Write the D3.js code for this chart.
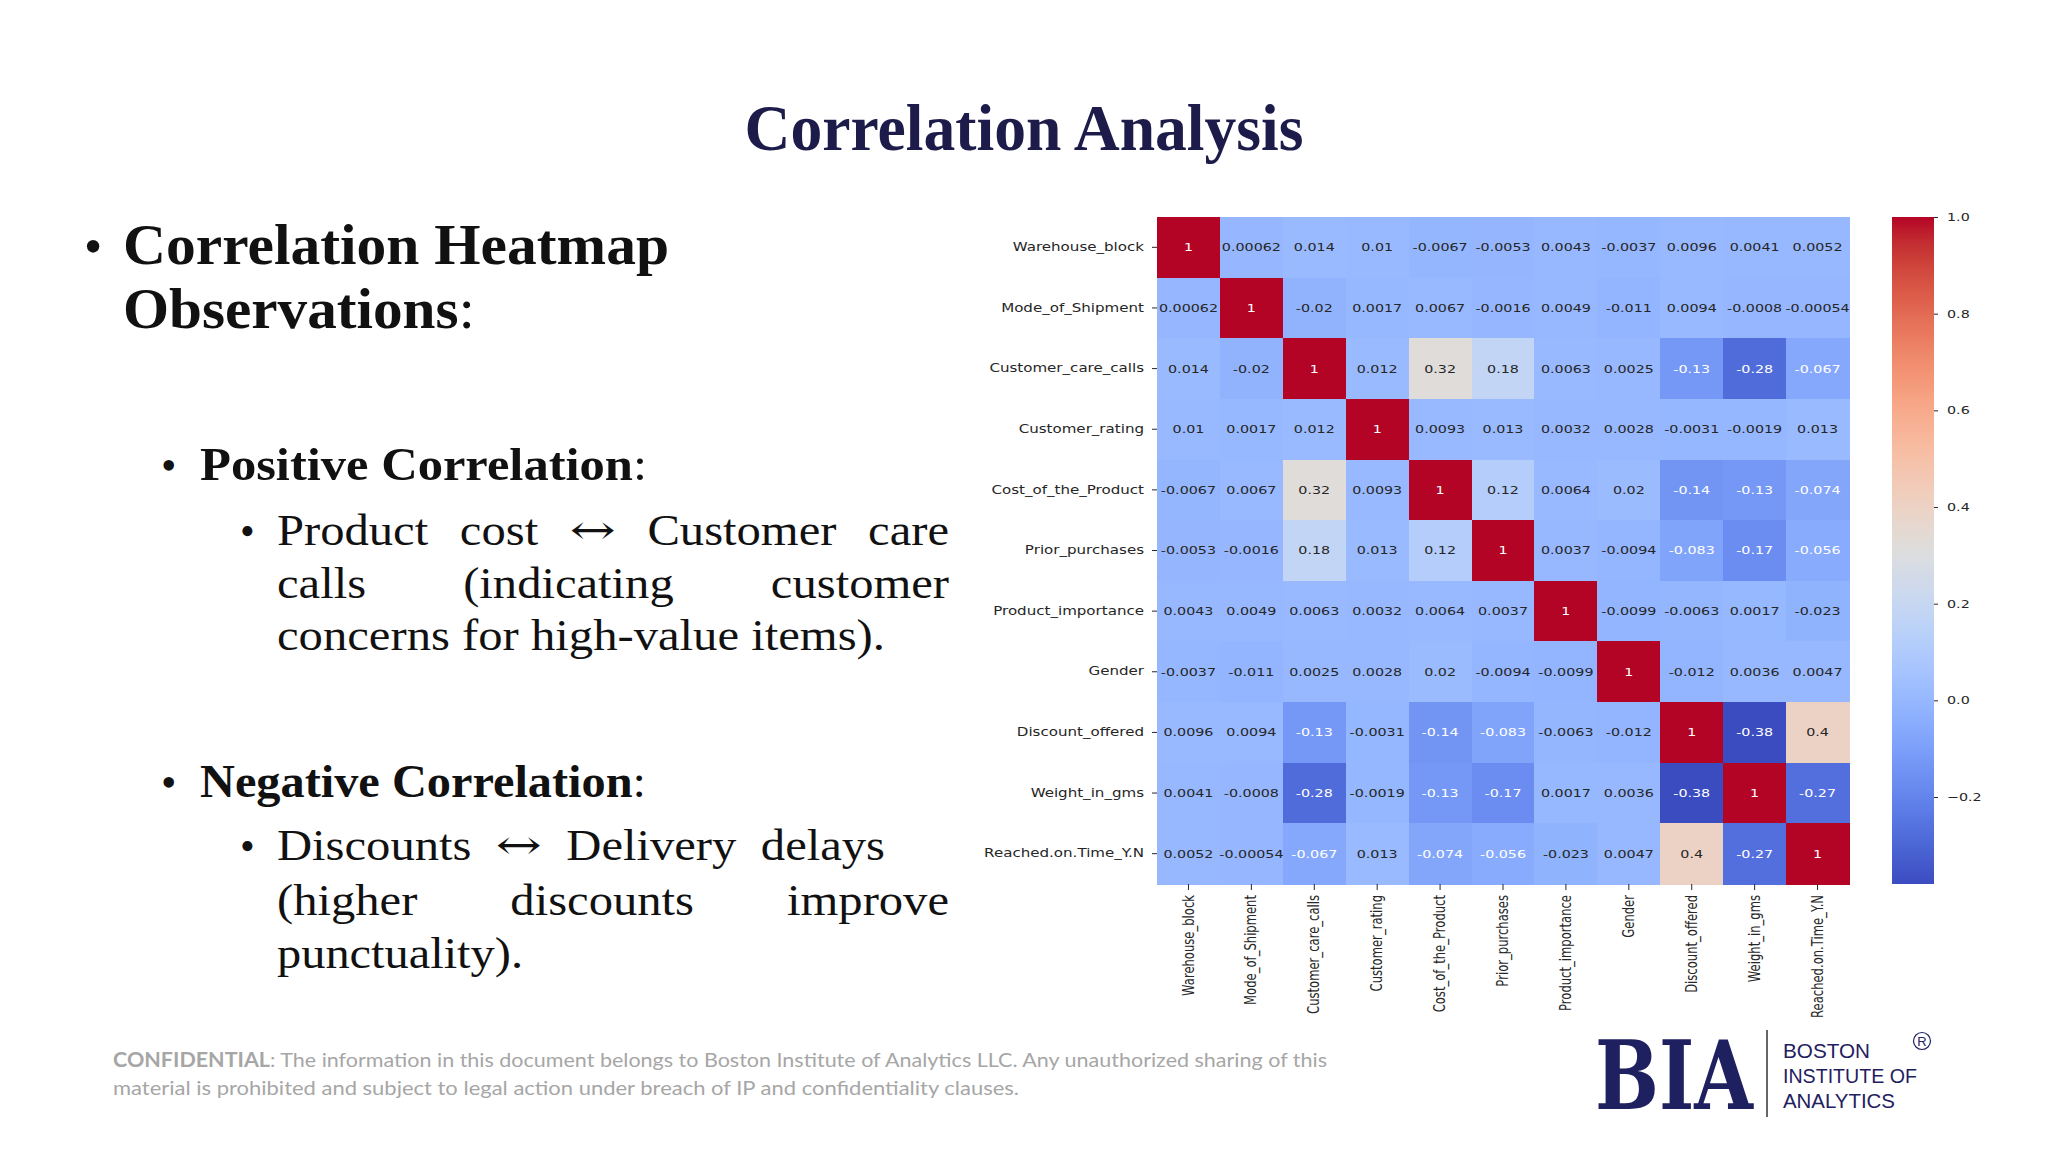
<!DOCTYPE html>
<html>
<head>
<meta charset="utf-8">
<script src="https://cdn.jsdelivr.net/npm/d3@7"></script>
<style>
  body { margin: 0; background: #fff; }
</style>
</head>
<body>
<div id="chart"></div>
<script>
// feature names, same order on both axes
const features = [
  "Warehouse_block", "Mode_of_Shipment", "Customer_care_calls", "Customer_rating",
  "Cost_of_the_Product", "Prior_purchases", "Product_importance", "Gender",
  "Discount_offered", "Weight_in_gms", "Reached.on.Time_Y.N"
];

// correlation matrix
const corrRows = [
  [1, 0.00062, 0.014, 0.01, -0.0067, -0.0053, 0.0043, -0.0037, 0.0096, 0.0041, 0.0052],
  [0.00062, 1, -0.02, 0.0017, 0.0067, -0.0016, 0.0049, -0.011, 0.0094, -0.0008, -0.00054],
  [0.014, -0.02, 1, 0.012, 0.32, 0.18, 0.0063, 0.0025, -0.13, -0.28, -0.067],
  [0.01, 0.0017, 0.012, 1, 0.0093, 0.013, 0.0032, 0.0028, -0.0031, -0.0019, 0.013],
  [-0.0067, 0.0067, 0.32, 0.0093, 1, 0.12, 0.0064, 0.02, -0.14, -0.13, -0.074],
  [-0.0053, -0.0016, 0.18, 0.013, 0.12, 1, 0.0037, -0.0094, -0.083, -0.17, -0.056],
  [0.0043, 0.0049, 0.0063, 0.0032, 0.0064, 0.0037, 1, -0.0099, -0.0063, 0.0017, -0.023],
  [-0.0037, -0.011, 0.0025, 0.0028, 0.02, -0.0094, -0.0099, 1, -0.012, 0.0036, 0.0047],
  [0.0096, 0.0094, -0.13, -0.0031, -0.14, -0.083, -0.0063, -0.012, 1, -0.38, 0.4],
  [0.0041, -0.0008, -0.28, -0.0019, -0.13, -0.17, 0.0017, 0.0036, -0.38, 1, -0.27],
  [0.0052, -0.00054, -0.067, 0.013, -0.074, -0.056, -0.023, 0.0047, 0.4, -0.27, 1]
];

const cbarTicks = [1.0, 0.8, 0.6, 0.4, 0.2, 0.0, -0.2];

// matplotlib "coolwarm" control colours (Moreland), evenly spaced 0..1
const coolwarmStops = [
  [59,76,192],[68,90,204],[77,104,215],[87,117,225],[98,130,234],[108,142,241],
  [119,154,247],[130,165,251],[141,176,254],[152,185,255],[163,194,255],[174,201,253],
  [184,208,249],[194,213,244],[204,217,238],[213,219,230],[221,221,221],[229,216,209],
  [236,211,197],[241,204,185],[245,196,173],[247,187,160],[247,177,148],[247,166,135],
  [244,154,123],[241,141,111],[236,127,99],[229,112,88],[222,96,77],[213,80,66],
  [203,62,56],[192,40,47],[180,4,38]
];

const width = 2048;
const height = 1152;

const svg = d3.select("#chart")
  .append("svg")
  .attr("width", width)
  .attr("height", height);

svg.append("rect").attr("width", width).attr("height", height).attr("fill", "#fff");

// ---------- title ----------
svg.append("text")
  .attr("x", 1024).attr("y", 150)
  .attr("text-anchor", "middle")
  .attr("font-family", "Liberation Serif")
  .attr("font-weight", "bold")
  .attr("font-size", 65)
  .attr("fill", "#1c1b4a")
  .attr("textLength", 559)
  .attr("lengthAdjust", "spacingAndGlyphs")
  .text("Correlation Analysis");

// ---------- left text block ----------
const left = svg.append("g")
  .attr("font-family", "Liberation Serif")
  .attr("fill", "#111");

function bullet(x, y, size) {
  left.append("text").attr("x", x).attr("y", y).attr("font-size", size).text("•");
}

function boldLine(x, y, size, bold, rest, w) {
  const t = left.append("text").attr("x", x).attr("y", y).attr("font-size", size)
    .attr("textLength", w).attr("lengthAdjust", "spacingAndGlyphs");
  t.append("tspan").attr("font-weight", "bold").text(bold);
  if (rest) t.append("tspan").text(rest);
}

function plainLine(x, y, size, str, w) {
  left.append("text").attr("x", x).attr("y", y).attr("font-size", size)
    .attr("textLength", w).attr("lengthAdjust", "spacingAndGlyphs")
    .text(str);
}

// spread the words of one line between x0 and x1
// the double arrow is drawn wider, as in the slide
function justifyLine(words, x0, x1, y, size, sx) {
  const nodes = words.map(w => left.append("text").attr("y", y).attr("font-size", size).text(w));
  const widths = nodes.map((n, i) => words[i] === "↔" ? 46 : n.node().getComputedTextLength() * sx);
  const gap = (x1 - x0 - d3.sum(widths)) / (words.length - 1);
  let cx = x0;
  nodes.forEach((n, i) => {
    n.attr("x", cx).attr("textLength", widths[i]).attr("lengthAdjust", "spacingAndGlyphs");
    if (words[i] === "↔") n.attr("font-family", "DejaVu Serif").attr("font-size", size * 0.9).attr("dy", -1);
    cx += widths[i] + gap;
  });
}

bullet(84, 264, 52);
boldLine(123, 264, 56, "Correlation Heatmap", "", 546);
boldLine(123, 328, 56, "Observations", ":", 352);

bullet(161, 480, 44);
boldLine(200, 480, 47, "Positive Correlation", ":", 447);
bullet(240, 545, 42);
justifyLine(["Product", "cost", "↔", "Customer", "care"], 277, 949, 545, 45, 1.08);
justifyLine(["calls", "(indicating", "customer"], 277, 949, 598, 45, 1.08);
plainLine(277, 650, 45, "concerns for high-value items).", 608);

bullet(161, 797, 44);
boldLine(200, 797, 47, "Negative Correlation", ":", 446);
bullet(240, 860, 42);
justifyLine(["Discounts", "↔", "Delivery", "delays"], 277, 885, 860, 45, 1.08);
justifyLine(["(higher", "discounts", "improve"], 277, 949, 915, 45, 1.08);
plainLine(277, 968, 45, "punctuality).", 246);

// ---------- heatmap ----------
const heat = { x0: 1157, x1: 1849, y0: 217, y1: 884 };
const sx = 1.3; // the figure is stretched horizontally in the slide

const allVals = corrRows.flat();
const vmin = d3.min(allVals);
const vmax = 1;

const coolwarm = d3.scaleLinear()
  .domain(d3.range(coolwarmStops.length).map(i => i / (coolwarmStops.length - 1)))
  .range(coolwarmStops.map(c => d3.rgb(c[0], c[1], c[2])))
  .interpolate(d3.interpolateRgb)
  .clamp(true);
const color = v => coolwarm((v - vmin) / (vmax - vmin));

function luminance(c) {
  const rgb = d3.rgb(c);
  const lin = [rgb.r, rgb.g, rgb.b].map(v => {
    v /= 255;
    return v <= 0.03928 ? v / 12.92 : Math.pow((v + 0.055) / 1.055, 2.4);
  });
  return 0.2126 * lin[0] + 0.7152 * lin[1] + 0.0722 * lin[2];
}

const x = d3.scaleBand().domain(features).range([heat.x0, heat.x1]);
const y = d3.scaleBand().domain(features).range([heat.y0, heat.y1]);

const cells = [];
corrRows.forEach((row, i) => row.forEach((v, j) => {
  cells.push({ row: features[i], col: features[j], value: v });
}));

const fmt = d3.formatLocale({ decimal: ".", thousands: ",", grouping: [3], currency: ["", ""], minus: "-" })
  .format(".2~g");

const hm = svg.append("g");

hm.selectAll("rect")
  .data(cells)
  .join("rect")
  .attr("x", d => x(d.col))
  .attr("y", d => y(d.row))
  .attr("width", x.bandwidth() + 0.6)
  .attr("height", y.bandwidth() + 0.6)
  .attr("fill", d => color(d.value))
  .attr("shape-rendering", "crispEdges");

hm.selectAll("text.annot")
  .data(cells)
  .join("text")
  .attr("class", "annot")
  .attr("transform", d => `translate(${x(d.col) + x.bandwidth() / 2},${y(d.row) + y.bandwidth() / 2}) scale(${sx},1)`)
  .attr("text-anchor", "middle")
  .attr("dy", "0.36em")
  .attr("font-family", "DejaVu Sans")
  .attr("font-size", 11)
  .attr("fill", d => luminance(color(d.value)) > 0.43 ? "#262626" : "#fff")
  .text(d => fmt(d.value));

// row labels
const yAxis = svg.append("g")
  .attr("transform", `translate(${heat.x0},0)`)
  .call(d3.axisLeft(y).tickSize(5).tickPadding(5));
yAxis.select(".domain").remove();
yAxis.selectAll("line").attr("stroke", "#262626");
yAxis.selectAll("text")
  .attr("transform", `scale(${sx},1)`)
  .attr("font-family", "DejaVu Sans")
  .attr("font-size", 11.6)
  .attr("fill", "#262626");

// column labels, rotated
const xAxis = svg.append("g")
  .attr("transform", `translate(0,${heat.y1})`)
  .call(d3.axisBottom(x).tickSize(6));
xAxis.select(".domain").remove();
xAxis.selectAll("line").attr("stroke", "#262626");
xAxis.selectAll("text")
  .attr("transform", `scale(${sx},1) rotate(-90)`)
  .attr("x", -11)
  .attr("y", 0)
  .attr("dy", "0.34em")
  .attr("text-anchor", "end")
  .attr("font-family", "DejaVu Sans")
  .attr("font-size", 11.6)
  .attr("fill", "#262626");

// ---------- colour bar ----------
const cb = { x: 1892, w: 42 };
const cbScale = d3.scaleLinear().domain([vmin, vmax]).range([heat.y1, heat.y0]);

const grad = svg.append("defs").append("linearGradient")
  .attr("id", "cbar")
  .attr("x1", 0).attr("y1", 1).attr("x2", 0).attr("y2", 0);
grad.selectAll("stop")
  .data(d3.range(0, 1.0001, 0.02))
  .join("stop")
  .attr("offset", t => t)
  .attr("stop-color", t => color(vmin + t * (vmax - vmin)));

svg.append("rect")
  .attr("x", cb.x).attr("y", heat.y0)
  .attr("width", cb.w).attr("height", heat.y1 - heat.y0)
  .attr("fill", "url(#cbar)");

const cAxis = svg.append("g")
  .attr("transform", `translate(${cb.x + cb.w},0)`)
  .call(d3.axisRight(cbScale).tickValues(cbarTicks).tickFormat(d3.format(".1f")).tickSize(4).tickPadding(6));
cAxis.select(".domain").remove();
cAxis.selectAll("line").attr("stroke", "#262626");
cAxis.selectAll("text")
  .attr("transform", `scale(${sx},1)`)
  .attr("font-family", "DejaVu Sans")
  .attr("font-size", 11)
  .attr("fill", "#262626");

// ---------- footer ----------
const foot = svg.append("g")
  .attr("font-family", "Lato")
  .attr("font-size", 20)
  .attr("fill", "#a6a6a6");
const f1 = foot.append("text").attr("x", 113).attr("y", 1067)
  .attr("textLength", 1214).attr("lengthAdjust", "spacingAndGlyphs");
f1.append("tspan").attr("font-weight", "bold").text("CONFIDENTIAL");
f1.append("tspan").text(": The information in this document belongs to Boston Institute of Analytics LLC. Any unauthorized sharing of this");
foot.append("text").attr("x", 113).attr("y", 1095)
  .attr("textLength", 906).attr("lengthAdjust", "spacingAndGlyphs")
  .text("material is prohibited and subject to legal action under breach of IP and confidentiality clauses.");

// ---------- logo ----------
const logo = svg.append("g").attr("fill", "#1f2060");
logo.append("text")
  .attr("x", 1595).attr("y", 1109)
  .attr("font-family", "DejaVu Serif")
  .attr("font-weight", "bold")
  .attr("font-size", 95)
  .attr("textLength", 158)
  .attr("lengthAdjust", "spacingAndGlyphs")
  .text("BIA");
logo.append("line")
  .attr("x1", 1767).attr("x2", 1767).attr("y1", 1030).attr("y2", 1117)
  .attr("stroke", "#333").attr("stroke-width", 1.5);
[["BOSTON", 1058, 87], ["INSTITUTE OF", 1083, 134], ["ANALYTICS", 1108, 112]].forEach(([s, yy, w]) => {
  logo.append("text")
    .attr("x", 1783).attr("y", yy)
    .attr("font-family", "Liberation Sans")
    .attr("font-size", 21)
    .attr("textLength", w)
    .attr("lengthAdjust", "spacingAndGlyphs")
    .text(s);
});
logo.append("circle").attr("cx", 1922).attr("cy", 1041).attr("r", 8.5)
  .attr("fill", "none").attr("stroke", "#1f2060").attr("stroke-width", 1.2);
logo.append("text")
  .attr("x", 1922).attr("y", 1046).attr("text-anchor", "middle")
  .attr("font-family", "Liberation Sans").attr("font-size", 13)
  .text("R");
</script>
</body>
</html>
